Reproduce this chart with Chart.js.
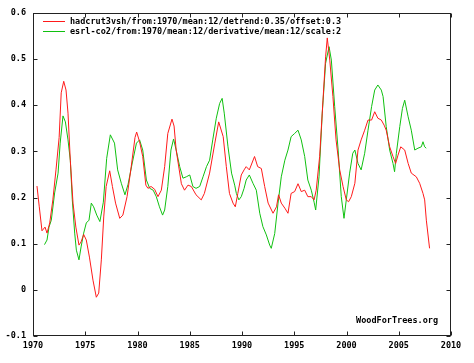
<!DOCTYPE html>
<html>
<head>
<meta charset="utf-8">
<script src="https://cdn.jsdelivr.net/npm/chart.js@4.4.1/dist/chart.umd.min.js"></script>
<style>
  html, body { margin: 0; padding: 0; background: #fff; }
  #wrap { width: 474px; height: 363px; }
</style>
</head>
<body>
<div id="wrap"><canvas id="c"></canvas></div>
<script>
/* ── hadcrut3vsh (mean 12, detrend 0.35, offset 0.3) ── */
const HAD_X = [1970.38,1970.6,1970.86,1971.15,1971.34,1971.6,1971.9,1972.2,1972.5,1972.7,1972.94,1973.16,1973.35,1973.57,1973.83,
  1974.1,1974.4,1974.6,1974.85,1975.1,1975.4,1975.74,1976.06,1976.29,1976.54,1976.77,1977.0,1977.34,1977.6,1977.9,
  1978.3,1978.6,1979.0,1979.4,1979.76,1979.92,1980.2,1980.5,1980.8,1981.0,1981.3,1981.64,1981.96,1982.28,1982.6,
  1982.9,1983.3,1983.5,1983.7,1984.2,1984.5,1984.83,1985.15,1985.6,1986.1,1986.4,1986.9,1987.4,1987.77,1988.2,
  1988.5,1988.8,1989.14,1989.36,1989.6,1989.93,1990.2,1990.4,1990.7,1991.2,1991.5,1991.85,1992.17,1992.5,1992.97,
  1993.3,1993.5,1993.76,1994.1,1994.4,1994.7,1995.04,1995.36,1995.67,1996.0,1996.3,1996.63,1996.9,1997.1,1997.43,
  1997.75,1998.0,1998.16,1998.4,1998.7,1999.0,1999.35,1999.67,1999.98,2000.2,2000.46,2000.8,2001.1,2001.4,2001.74,
  2002.06,2002.4,2002.7,2003.0,2003.33,2003.6,2003.8,2004.13,2004.45,2004.7,2004.93,2005.19,2005.57,2005.9,2006.2,
  2006.68,2007.0,2007.32,2007.48,2007.64,2007.95];
const HAD_Y = [0.225,0.18,0.128,0.136,0.123,0.145,0.195,0.26,0.33,0.427,0.452,0.433,0.383,0.281,0.188,
  0.136,0.097,0.104,0.12,0.108,0.071,0.021,-0.016,-0.007,0.065,0.158,0.224,0.258,0.224,0.188,
  0.155,0.162,0.202,0.267,0.33,0.342,0.321,0.289,0.227,0.22,0.224,0.218,0.202,0.216,0.267,
  0.339,0.37,0.355,0.303,0.23,0.216,0.227,0.224,0.206,0.195,0.209,0.253,0.318,0.364,0.332,
  0.267,0.209,0.188,0.18,0.209,0.249,0.26,0.267,0.26,0.289,0.267,0.263,0.224,0.188,0.166,
  0.18,0.206,0.188,0.177,0.166,0.209,0.213,0.23,0.213,0.216,0.202,0.202,0.195,0.216,0.289,
  0.411,0.505,0.546,0.498,0.419,0.325,0.26,0.224,0.195,0.191,0.202,0.231,0.303,0.325,0.346,
  0.368,0.368,0.386,0.372,0.368,0.357,0.346,0.31,0.289,0.274,0.292,0.31,0.303,0.274,0.253,
  0.245,0.231,0.209,0.195,0.151,0.09];

/* ── esrl-co2 (mean 12, derivative, mean 12, scale 2) ── */
const CO2_X = [1971.1,1971.34,1971.53,1971.75,1972.07,1972.4,1972.6,1972.87,1973.1,1973.35,1973.57,1973.76,1973.99,
  1974.15,1974.4,1974.6,1974.85,1975.1,1975.36,1975.58,1975.8,1976.1,1976.4,1976.73,1977.05,1977.4,1977.8,1978.1,
  1978.45,1978.8,1979.1,1979.5,1979.9,1980.2,1980.5,1980.85,1981.17,1981.5,1981.8,1982.1,1982.4,1982.6,1982.9,
  1983.2,1983.45,1983.7,1984.04,1984.35,1984.67,1985.0,1985.3,1985.6,1985.95,1986.27,1986.6,1986.9,1987.2,1987.54,
  1987.86,1988.1,1988.3,1988.66,1989.0,1989.3,1989.46,1989.7,1989.93,1990.2,1990.4,1990.7,1991.05,1991.37,1991.7,
  1992.0,1992.33,1992.65,1992.8,1993.13,1993.45,1993.76,1994.1,1994.4,1994.7,1995.04,1995.36,1995.67,1996.0,1996.3,
  1996.63,1996.9,1997.05,1997.37,1997.68,1998.0,1998.33,1998.55,1998.87,1999.2,1999.5,1999.76,1999.98,2000.3,2000.6,
  2000.8,2001.1,2001.4,2001.74,2002.06,2002.4,2002.7,2003.0,2003.33,2003.5,2003.8,2004.13,2004.45,2004.6,2004.77,
  2005.1,2005.35,2005.57,2005.9,2006.2,2006.53,2006.84,2007.16,2007.32,2007.48,2007.63];
const CO2_Y = [0.098,0.108,0.136,0.151,0.21,0.253,0.318,0.377,0.364,0.325,0.281,0.195,0.123,
  0.086,0.065,0.093,0.123,0.145,0.151,0.188,0.18,0.162,0.148,0.19,0.285,0.336,0.318,0.26,
  0.231,0.206,0.229,0.275,0.318,0.325,0.303,0.238,0.22,0.216,0.202,0.18,0.162,0.173,0.224,
  0.303,0.327,0.303,0.267,0.242,0.245,0.249,0.224,0.22,0.224,0.245,0.267,0.281,0.325,0.372,
  0.404,0.415,0.383,0.31,0.253,0.227,0.209,0.195,0.202,0.22,0.238,0.249,0.231,0.216,0.166,
  0.137,0.119,0.097,0.09,0.122,0.188,0.245,0.281,0.303,0.332,0.339,0.346,0.325,0.289,0.238,
  0.216,0.19,0.173,0.245,0.383,0.491,0.527,0.498,0.397,0.303,0.202,0.155,0.195,0.253,0.296,
  0.303,0.274,0.26,0.296,0.346,0.397,0.433,0.444,0.433,0.419,0.354,0.303,0.274,0.256,0.296,
  0.354,0.393,0.411,0.375,0.346,0.303,0.307,0.31,0.321,0.31,0.307];

const LABELS = ['hadcrut3vsh/from:1970/mean:12/detrend:0.35/offset:0.3',
                'esrl-co2/from:1970/mean:12/derivative/mean:12/scale:2'];
const COLORS = ['#ff1a1a', '#10c010'];
const X_TICKS = [1970,1975,1980,1985,1990,1995,2000,2005,2010];
const Y_TICKS = [-0.1,0,0.1,0.2,0.3,0.4,0.5,0.6];

const FONT = 'bold 8.5px "DejaVu Sans Mono", monospace';
const pts = (xs, ys) => xs.map((x, i) => ({ x, y: ys[i] }));

/* box, inward ticks, legend and watermark in gnuplot style */
const frame = {
  id: 'frame',
  afterDraw(chart) {
    const { ctx, chartArea: a, scales: { x, y } } = chart;
    const L = Math.round(a.left) + 0.5, R = Math.round(a.right) - 0.5;
    const T = Math.round(a.top) + 0.5, B = Math.round(a.bottom) - 0.5;
    ctx.save();
    ctx.strokeStyle = '#222';
    ctx.lineWidth = 1;
    ctx.strokeRect(L, T, R - L, B - T);
    ctx.beginPath();
    X_TICKS.forEach(v => {
      const px = Math.round(x.getPixelForValue(v)) + 0.5;
      ctx.moveTo(px, B); ctx.lineTo(px, B - 4);
      ctx.moveTo(px, T); ctx.lineTo(px, T + 4);
    });
    Y_TICKS.forEach(v => {
      const py = Math.round(y.getPixelForValue(v)) + 0.5;
      ctx.moveTo(L, py); ctx.lineTo(L + 4, py);
      ctx.moveTo(R, py); ctx.lineTo(R - 4, py);
    });
    ctx.stroke();

    ctx.font = FONT;
    ctx.fillStyle = '#000';
    ctx.textBaseline = 'middle';
    LABELS.forEach((t, i) => {
      const ly = Math.round(a.top + 8 + i * 9.5) + 0.5;
      ctx.strokeStyle = COLORS[i];
      ctx.beginPath(); ctx.moveTo(a.left + 10, ly); ctx.lineTo(a.left + 32, ly); ctx.stroke();
      ctx.fillText(t, a.left + 37, ly);
    });
    ctx.textAlign = 'right';
    ctx.fillText('WoodForTrees.org', a.right - 13, a.bottom - 15);
    ctx.restore();
  }
};

new Chart(document.getElementById('c'), {
  type: 'line',
  data: {
    datasets: [
      { label: LABELS[0], data: pts(HAD_X, HAD_Y), borderColor: COLORS[0], borderWidth: 1, pointRadius: 0, tension: 0, fill: false },
      { label: LABELS[1], data: pts(CO2_X, CO2_Y), borderColor: COLORS[1], borderWidth: 1, pointRadius: 0, tension: 0, fill: false },
    ],
  },
  options: {
    responsive: true,
    maintainAspectRatio: false,
    animation: false,
    layout: { padding: { top: 13, right: 23, left: 0, bottom: 0 } },
    plugins: { legend: { display: false }, tooltip: { enabled: false } },
    scales: {
      x: {
        type: 'linear', min: 1970, max: 2010,
        afterFit: s => { s.height = 27; },
        afterBuildTicks: s => { s.ticks = X_TICKS.map(v => ({ value: v })); },
        grid: { display: false, drawTicks: false }, border: { display: false },
        ticks: { color: '#000', font: { family: '"DejaVu Sans Mono", monospace', size: 8.5, weight: 'bold' },
                 padding: 5, maxRotation: 0, autoSkip: false, callback: v => String(v) },
      },
      y: {
        type: 'linear', min: -0.1, max: 0.6,
        afterFit: s => { s.width = 33; },
        afterBuildTicks: s => { s.ticks = Y_TICKS.map(v => ({ value: v })); },
        grid: { display: false, drawTicks: false }, border: { display: false },
        ticks: { color: '#000', font: { family: '"DejaVu Sans Mono", monospace', size: 8.5, weight: 'bold' },
                 padding: 7, autoSkip: false, callback: v => v === 0 ? '0' : v.toFixed(1) },
      },
    },
  },
  plugins: [frame],
});
</script>
</body>
</html>
